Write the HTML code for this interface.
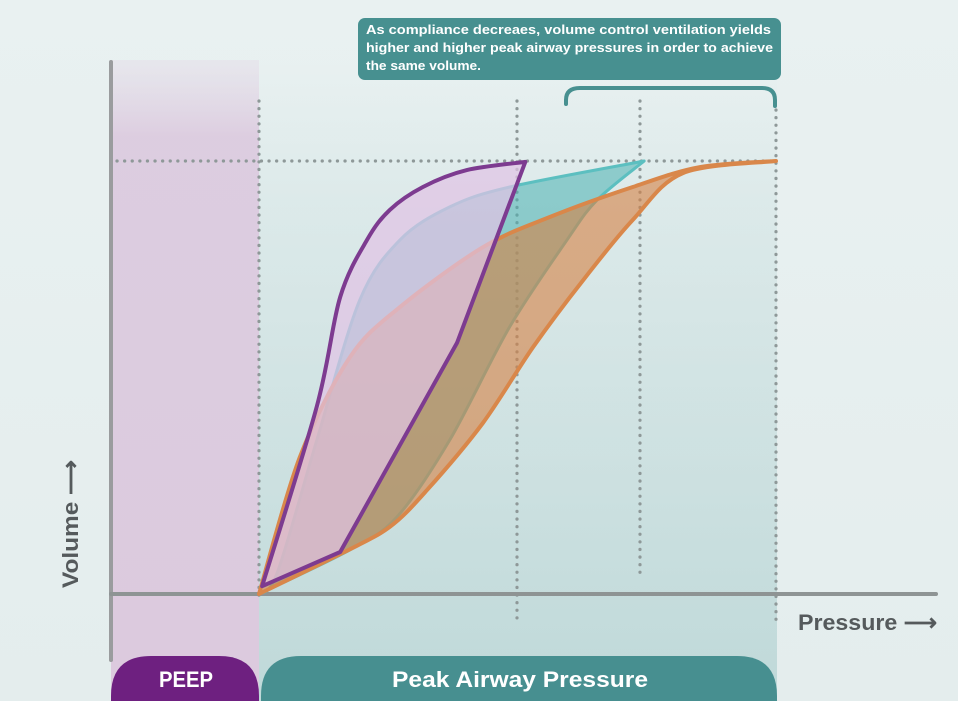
<!DOCTYPE html>
<html><head><meta charset="utf-8">
<style>
html,body{margin:0;padding:0;width:958px;height:701px;overflow:hidden;background:#e8f0f0;}
svg{display:block;font-family:"Liberation Sans",sans-serif;}
</style></head>
<body>
<svg id="chart" width="958" height="701" viewBox="0 0 958 701" xmlns="http://www.w3.org/2000/svg">
<defs>
<linearGradient id="bg" x1="0" y1="0" x2="0" y2="1">
<stop offset="0" stop-color="#e9f1f1"/><stop offset="1" stop-color="#e4eded"/></linearGradient>
<linearGradient id="peakg" x1="0" y1="0" x2="0" y2="1">
<stop offset="0" stop-color="#c4dcdc" stop-opacity="0"/><stop offset="0.25" stop-color="#c4dcdc" stop-opacity="0.35"/><stop offset="1" stop-color="#bfd9d9" stop-opacity="1"/></linearGradient>
<linearGradient id="peepg" x1="0" y1="0" x2="0" y2="1">
<stop offset="0" stop-color="#e3d8e6" stop-opacity="0.4"/><stop offset="0.12" stop-color="#dccbdf" stop-opacity="0.95"/><stop offset="1" stop-color="#dccade" stop-opacity="1"/></linearGradient>
</defs>
<rect x="0" y="0" width="958" height="701" fill="url(#bg)"/>
<rect x="111" y="60" width="148" height="641" fill="url(#peepg)"/>
<rect x="259" y="60" width="518" height="641" fill="url(#peakg)"/>
<g id="grid" stroke="#8e9898" stroke-width="3.2" stroke-dasharray="0.1 7.5" stroke-linecap="round" fill="none">
<line x1="117" y1="161" x2="776" y2="161"/>
<line x1="259" y1="101" x2="259" y2="600"/>
<line x1="517" y1="101" x2="517" y2="620"/>
<line x1="640" y1="101" x2="640" y2="578"/>
<line x1="776" y1="110" x2="776" y2="620"/>
</g>
<line x1="111" y1="62" x2="111" y2="660" stroke="#9a9c9e" stroke-width="4" stroke-linecap="round"/>
<line x1="111" y1="594" x2="936" y2="594" stroke="#8e9494" stroke-width="4" stroke-linecap="round"/>
<g id="loops"></g>
<rect x="358" y="18" width="423" height="62" rx="7" fill="#479090"/>
<g fill="#fff" font-weight="bold" font-size="13">
<text x="366" y="34" textLength="405" lengthAdjust="spacingAndGlyphs">As compliance decreaes, volume control ventilation yields</text>
<text x="366" y="52" textLength="407" lengthAdjust="spacingAndGlyphs">higher and higher peak airway pressures in order to achieve</text>
<text x="366" y="70" textLength="115" lengthAdjust="spacingAndGlyphs">the same volume.</text>
</g>
<path d="M566,104 V100 Q566,88 580,88 H762 Q775,88 775,100 V106" fill="none" stroke="#479090" stroke-width="4" stroke-linecap="round"/>
<path d="M111,701 V696 Q111,656 151,656 H219 Q259,656 259,696 V701 Z" fill="#6e2080"/>
<text x="186" y="687" text-anchor="middle" fill="#fff" font-weight="bold" font-size="22" textLength="54" lengthAdjust="spacingAndGlyphs">PEEP</text>
<path d="M261,701 V696 Q261,656 301,656 H737 Q777,656 777,696 V701 Z" fill="#478f90"/>
<text x="520" y="687" text-anchor="middle" fill="#fff" font-weight="bold" font-size="22" textLength="256" lengthAdjust="spacingAndGlyphs">Peak Airway Pressure</text>
<text x="798" y="630" fill="#555a5c" font-weight="bold" font-size="22" textLength="139" lengthAdjust="spacingAndGlyphs">Pressure ⟶</text>
<text transform="translate(78,588) rotate(-90)" x="0" y="0" fill="#555a5c" font-weight="bold" font-size="22" textLength="128" lengthAdjust="spacingAndGlyphs">Volume ⟶</text>
</svg>
<script>
// Pressure (0 = PEEP, 100 = highest peak) and volume (0..100) data for each loop
const tealPressure = [0, 3.5, 11.2, 19.5, 27.3, 36.9, 48.5, 74.5, 65.4, 59.6, 48.5, 36.9, 26.7, 17.6, 0];
const tealVolume   = [0, 4.8, 35.6, 67.9, 81.8, 89.4, 94, 100, 91, 81.8, 61.7, 35.6, 17.8, 10.2, 0];
const orangePressure = [0, 7.9, 17.6, 27.3, 43.3, 56.3, 72.3, 85.3, 100, 82, 72.3, 62.7, 53, 43.3, 32.5, 25.3, 16.2, 0];
const orangeVolume   = [0, 31.6, 54.7, 66.3, 80.1, 87.1, 94, 98.6, 100, 97.2, 86.4, 72.5, 57, 39.5, 24, 15.5, 9.5, 0];
const purplePressure = [0.6, 11.2, 15.7, 20.9, 25.3, 31.7, 40.2, 51.5, 38.3, 15.7, 0.6];
const purpleVolume   = [1.8, 43.4, 68.6, 81.8, 88.7, 94, 97.9, 99.8, 58, 9.7, 1.8];

const X0 = 259, X1 = 776, Y0 = 594, Y1 = 161;
function xScale(p){ return X0 + p / 100 * (X1 - X0); }
function yScale(v){ return Y0 - v / 100 * (Y0 - Y1); }
const NS = "http://www.w3.org/2000/svg";
const g = document.getElementById('loops');
function smoothSeg(pts, straight){
  let d = '';
  for (let i = 0; i < pts.length - 1; i++){
    const p1 = pts[i], p2 = pts[i+1];
    if (straight){ d += ' L' + p2[0].toFixed(1) + ',' + p2[1].toFixed(1); continue; }
    const p0 = pts[i-1] || p1, p3 = pts[i+2] || p2;
    const t = 0.16;
    const c1 = [p1[0] + (p2[0]-p0[0])*t, p1[1] + (p2[1]-p0[1])*t];
    const c2 = [p2[0] - (p3[0]-p1[0])*t, p2[1] - (p3[1]-p1[1])*t];
    d += ' C' + c1[0].toFixed(1)+','+c1[1].toFixed(1)+' '+c2[0].toFixed(1)+','+c2[1].toFixed(1)+' '+p2[0].toFixed(1)+','+p2[1].toFixed(1);
  }
  return d;
}
function loop(ps, vs, fill, stroke, width, name, straightLower){
  const pts = ps.map((p,i)=>[xScale(p), yScale(vs[i])]);
  let peak = 0;
  ps.forEach((p,i)=>{ if (p > ps[peak]) peak = i; });
  const d = 'M' + pts[0][0].toFixed(1) + ',' + pts[0][1].toFixed(1) +
    smoothSeg(pts.slice(0, peak + 1), false) +
    smoothSeg(pts.slice(peak), straightLower) + ' Z';
  const path = document.createElementNS(NS,'path');
  path.setAttribute('d', d);
  path.setAttribute('fill', fill);
  path.setAttribute('stroke', stroke);
  path.setAttribute('stroke-width', width);
  path.setAttribute('stroke-linejoin','round');
  
  
  g.appendChild(path);
}
loop(tealPressure, tealVolume, 'rgba(72,176,176,0.55)', '#5cbfc0', 3, 'teal-loop', false);
loop(orangePressure, orangeVolume, 'rgba(214,128,66,0.6)', '#d9874a', 4, 'orange-loop', false);
loop(purplePressure, purpleVolume, 'rgba(225,195,228,0.72)', '#7d3b90', 4, 'purple-loop', true);
</script>
</body></html>
